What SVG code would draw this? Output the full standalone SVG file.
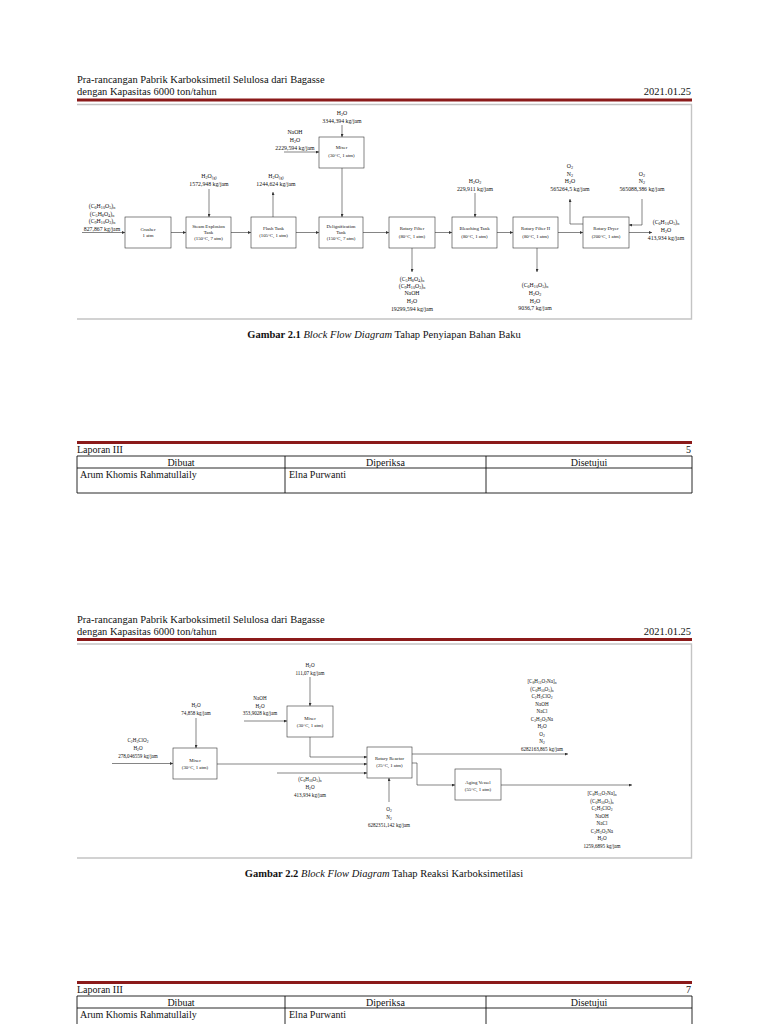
<svg xmlns="http://www.w3.org/2000/svg" width="768" height="1024" viewBox="0 0 768 1024">
<style>
text{font-family:"Liberation Serif","Times New Roman",serif;fill:#111}
.h{font-size:10.5px}
.c{font-size:10.5px;text-anchor:middle}
.t{font-size:10px}
.tc{font-size:10px;text-anchor:middle}
.l{font-size:5.8px;text-anchor:middle}
.m{font-size:5.1px;text-anchor:middle}
.b{font-size:4.8px;text-anchor:middle}
.s{font-size:4.2px}
.l .s{baseline-shift:-1.2px}
.m .s{font-size:3.7px;baseline-shift:-1.05px}
.box rect{fill:#fff;stroke:#333;stroke-width:0.6}
.con path{fill:none;stroke:#333;stroke-width:0.6;marker-end:url(#ah)}
.red{fill:#8b1a1a}
.frame{fill:none;stroke:#c4c4c4;stroke-width:1.4}
.tbl{fill:none;stroke:#111;stroke-width:0.9}
</style>
<defs>
<marker id="ah" viewBox="0 0 6 6" refX="6" refY="3" markerWidth="3" markerHeight="3" markerUnits="userSpaceOnUse" orient="auto">
<path d="M0,0 L6,3 L0,6 z" fill="#333"/>
</marker>
</defs>
<rect width="768" height="1024" fill="#fff"/>

<!-- ================= PAGE 1 ================= -->
<g id="header1">
<text class="h" x="77" y="83">Pra-rancangan Pabrik Karboksimetil Selulosa dari Bagasse</text>
<text class="h" x="77" y="95">dengan Kapasitas 6000 ton/tahun</text>
<text class="h" x="691" y="95" text-anchor="end">2021.01.25</text>
<rect class="red" x="77" y="98.5" width="615" height="3"/>
</g>
<path class="frame" d="M77,104.5 H691.5 V319 H77"/>

<g class="box">
<g id="crusher"><rect x="125" y="217" width="46" height="31"/><text class="b" x="148" y="231">Crusher</text><text class="b" x="148" y="237">1 atm</text></g>
<g id="steam-explosion-tank"><rect x="186" y="217" width="45" height="31"/><text class="b" x="208.5" y="228">Steam Explosion</text><text class="b" x="208.5" y="234">Tank</text><text class="b" x="208.5" y="240">(150°C, 7 atm)</text></g>
<g id="flash-tank"><rect x="251" y="217" width="45" height="31"/><text class="b" x="273.5" y="230">Flash Tank</text><text class="b" x="273.5" y="237">(105°C, 1 atm)</text></g>
<g id="mixer1"><rect x="319" y="137" width="45" height="31"/><text class="b" x="341.5" y="149">Mixer</text><text class="b" x="341.5" y="157">(30°C, 1 atm)</text></g>
<g id="delignification-tank"><rect x="319" y="217" width="44" height="31"/><text class="b" x="341" y="228">Delignification</text><text class="b" x="341" y="234">Tank</text><text class="b" x="341" y="240">(150°C, 7 atm)</text></g>
<g id="rotary-filter"><rect x="389" y="217" width="46" height="31"/><text class="b" x="412" y="230">Rotary Filter</text><text class="b" x="412" y="237.5">(80°C, 1 atm)</text></g>
<g id="bleaching-tank"><rect x="452" y="217" width="45" height="31"/><text class="b" x="474.5" y="230">Bleaching Tank</text><text class="b" x="474.5" y="237.5">(80°C, 1 atm)</text></g>
<g id="rotary-filter-2"><rect x="513" y="217" width="45" height="31"/><text class="b" x="535.5" y="230">Rotary Filter II</text><text class="b" x="535.5" y="237.5">(80°C, 1 atm)</text></g>
<g id="rotary-dryer"><rect x="583" y="217" width="46" height="31"/><text class="b" x="606" y="230">Rotary Dryer</text><text class="b" x="606" y="237.5">(200°C, 1 atm)</text></g>
</g>

<g id="connectors1" class="con">
<path d="M82,232.5 H125"/>
<path d="M171,232.5 H186"/>
<path d="M231,232.5 H251"/>
<path d="M296,232.5 H319"/>
<path d="M363,232.5 H389"/>
<path d="M435,232.5 H452"/>
<path d="M497,232.5 H513"/>
<path d="M558,232.5 H583"/>
<path d="M629,232.5 H652"/>
<path d="M209,189 V217"/>
<path d="M273,217 V192"/>
<path d="M342,125 V137"/>
<path d="M284,152 H319"/>
<path d="M342,168 V217"/>
<path d="M475,193 V217"/>
<path d="M583,224 H570 V199"/>
<path d="M642,199 V225 H629"/>
<path d="M412,248 V272"/>
<path d="M537,248 V272"/>
</g>

<g id="labels1">
<text class="l" x="102" y="208">(C<tspan class="s">6</tspan>H<tspan class="s">10</tspan>O<tspan class="s">5</tspan>)<tspan class="s">n</tspan></text>
<text class="l" x="102" y="215.5">(C<tspan class="s">5</tspan>H<tspan class="s">8</tspan>O<tspan class="s">4</tspan>)<tspan class="s">n</tspan></text>
<text class="l" x="102" y="223">(C<tspan class="s">9</tspan>H<tspan class="s">10</tspan>O<tspan class="s">2</tspan>)<tspan class="s">n</tspan></text>
<text class="l" x="102" y="230.5">827,867 kg/jam</text>

<text class="l" x="209" y="178">H<tspan class="s">2</tspan>O<tspan class="s">(g)</tspan></text>
<text class="l" x="209" y="186">1572,948 kg/jam</text>

<text class="l" x="276" y="178">H<tspan class="s">2</tspan>O<tspan class="s">(g)</tspan></text>
<text class="l" x="276" y="186">1244,624 kg/jam</text>

<text class="l" x="342" y="115">H<tspan class="s">2</tspan>O</text>
<text class="l" x="342" y="123">3344,394 kg/jam</text>

<text class="l" x="295" y="134">NaOH</text>
<text class="l" x="295" y="142">H<tspan class="s">2</tspan>O</text>
<text class="l" x="295" y="150">2229,594 kg/jam</text>

<text class="l" x="475" y="183">H<tspan class="s">2</tspan>O<tspan class="s">2</tspan></text>
<text class="l" x="475" y="190.5">229,911 kg/jam</text>

<text class="l" x="570" y="168">O<tspan class="s">2</tspan></text>
<text class="l" x="570" y="175.5">N<tspan class="s">2</tspan></text>
<text class="l" x="570" y="183">H<tspan class="s">2</tspan>O</text>
<text class="l" x="570" y="190.5">565264,5 kg/jam</text>

<text class="l" x="642" y="175.5">O<tspan class="s">2</tspan></text>
<text class="l" x="642" y="183">N<tspan class="s">2</tspan></text>
<text class="l" x="642" y="190.5">565088,386 kg/jam</text>

<text class="l" x="666" y="224">(C<tspan class="s">6</tspan>H<tspan class="s">10</tspan>O<tspan class="s">5</tspan>)<tspan class="s">n</tspan></text>
<text class="l" x="666" y="232">H<tspan class="s">2</tspan>O</text>
<text class="l" x="666" y="240">413,934 kg/jam</text>

<text class="l" x="412" y="281">(C<tspan class="s">5</tspan>H<tspan class="s">8</tspan>O<tspan class="s">4</tspan>)<tspan class="s">n</tspan></text>
<text class="l" x="412" y="288">(C<tspan class="s">9</tspan>H<tspan class="s">10</tspan>O<tspan class="s">2</tspan>)<tspan class="s">n</tspan></text>
<text class="l" x="412" y="295">NaOH</text>
<text class="l" x="412" y="303">H<tspan class="s">2</tspan>O</text>
<text class="l" x="412" y="311">19299,594 kg/jam</text>

<text class="l" x="535" y="287">(C<tspan class="s">6</tspan>H<tspan class="s">10</tspan>O<tspan class="s">5</tspan>)<tspan class="s">n</tspan></text>
<text class="l" x="535" y="295">H<tspan class="s">2</tspan>O<tspan class="s">2</tspan></text>
<text class="l" x="535" y="302.5">H<tspan class="s">2</tspan>O</text>
<text class="l" x="535" y="310">9036,7 kg/jam</text>
</g>

<text class="c" x="384" y="338"><tspan font-weight="bold">Gambar 2.1</tspan> <tspan font-style="italic">Block Flow Diagram</tspan> Tahap Penyiapan Bahan Baku</text>

<g id="footer1">
<rect class="red" x="77" y="441" width="615" height="3"/>
<text class="t" x="77" y="453">Laporan III</text>
<text class="t" x="691" y="453" text-anchor="end">5</text>
<path class="tbl" d="M77,456 H692 V493 H77 Z M77,468 H692 M285,456 V493 M486,456 V493"/>
<text class="tc" x="181" y="465.5">Dibuat</text>
<text class="tc" x="385.5" y="465.5">Diperiksa</text>
<text class="tc" x="589" y="465.5">Disetujui</text>
<text class="t" x="80" y="478">Arum Khomis Rahmatullaily</text>
<text class="t" x="289" y="478">Elna Purwanti</text>
</g>

<!-- ================= PAGE 2 ================= -->
<g id="header2">
<text class="h" x="77" y="623">Pra-rancangan Pabrik Karboksimetil Selulosa dari Bagasse</text>
<text class="h" x="77" y="635">dengan Kapasitas 6000 ton/tahun</text>
<text class="h" x="691" y="635" text-anchor="end">2021.01.25</text>
<rect class="red" x="77" y="638" width="615" height="3"/>
</g>
<path class="frame" d="M77,644 H691.5 V858 H77"/>

<g class="box">
<g id="mixer-a"><rect x="173" y="748" width="44" height="31"/><text class="b" x="195" y="762">Mixer</text><text class="b" x="195" y="769">(30°C, 1 atm)</text></g>
<g id="mixer-b"><rect x="287" y="706" width="46" height="31"/><text class="b" x="310" y="720">Mixer</text><text class="b" x="310" y="727">(30°C, 1 atm)</text></g>
<g id="rotary-reactor"><rect x="367" y="747" width="45" height="31"/><text class="b" x="389.5" y="760">Rotary Reactor</text><text class="b" x="389.5" y="767">(25°C, 1 atm)</text></g>
<g id="aging-vessel"><rect x="455" y="769" width="46" height="31"/><text class="b" x="478" y="783.5">Aging Vessel</text><text class="b" x="478" y="790.5">(55°C, 1 atm)</text></g>
</g>

<g id="connectors2" class="con">
<path d="M112,763.5 H173"/>
<path d="M196,718 V748"/>
<path d="M217,764 H367"/>
<path d="M310,677 V706"/>
<path d="M244,721 H287"/>
<path d="M310,737 V757 H367"/>
<path d="M277,773 H367"/>
<path d="M389,802 V778"/>
<path d="M412,754 H568"/>
<path d="M412,763 H417 V785 H455"/>
<path d="M501,785 H632"/>
</g>

<g id="labels2">
<text class="m" x="138" y="742">C<tspan class="s">2</tspan>H<tspan class="s">3</tspan>ClO<tspan class="s">2</tspan></text>
<text class="m" x="138" y="750">H<tspan class="s">2</tspan>O</text>
<text class="m" x="138" y="758">278,046559 kg/jam</text>

<text class="m" x="196" y="707">H<tspan class="s">2</tspan>O</text>
<text class="m" x="196" y="715">74,858 kg/jam</text>

<text class="m" x="310" y="667">H<tspan class="s">2</tspan>O</text>
<text class="m" x="310" y="675">111,07 kg/jam</text>

<text class="m" x="260" y="700">NaOH</text>
<text class="m" x="260" y="707.5">H<tspan class="s">2</tspan>O</text>
<text class="m" x="260" y="715">353,9028 kg/jam</text>

<text class="m" x="310" y="781">(C<tspan class="s">6</tspan>H<tspan class="s">10</tspan>O<tspan class="s">5</tspan>)<tspan class="s">n</tspan></text>
<text class="m" x="310" y="789">H<tspan class="s">2</tspan>O</text>
<text class="m" x="310" y="797">413,934 kg/jam</text>

<text class="m" x="389" y="811">O<tspan class="s">2</tspan></text>
<text class="m" x="389" y="818.5">N<tspan class="s">2</tspan></text>
<text class="m" x="389" y="827">6282351,142 kg/jam</text>

<text class="m" x="542" y="683">[C<tspan class="s">8</tspan>H<tspan class="s">11</tspan>O<tspan class="s">7</tspan>Na]<tspan class="s">n</tspan></text>
<text class="m" x="542" y="690.5">(C<tspan class="s">6</tspan>H<tspan class="s">10</tspan>O<tspan class="s">5</tspan>)<tspan class="s">n</tspan></text>
<text class="m" x="542" y="698">C<tspan class="s">2</tspan>H<tspan class="s">3</tspan>ClO<tspan class="s">2</tspan></text>
<text class="m" x="542" y="705.5">NaOH</text>
<text class="m" x="542" y="713">NaCl</text>
<text class="m" x="542" y="720.5">C<tspan class="s">2</tspan>H<tspan class="s">3</tspan>O<tspan class="s">3</tspan>Na</text>
<text class="m" x="542" y="728">H<tspan class="s">2</tspan>O</text>
<text class="m" x="542" y="735.5">O<tspan class="s">2</tspan></text>
<text class="m" x="542" y="743">N<tspan class="s">2</tspan></text>
<text class="m" x="542" y="750.5">6282163,865 kg/jam</text>

<text class="m" x="602" y="795">[C<tspan class="s">8</tspan>H<tspan class="s">11</tspan>O<tspan class="s">7</tspan>Na]<tspan class="s">n</tspan></text>
<text class="m" x="602" y="802.5">(C<tspan class="s">6</tspan>H<tspan class="s">10</tspan>O<tspan class="s">5</tspan>)<tspan class="s">n</tspan></text>
<text class="m" x="602" y="810">C<tspan class="s">2</tspan>H<tspan class="s">3</tspan>ClO<tspan class="s">2</tspan></text>
<text class="m" x="602" y="817.5">NaOH</text>
<text class="m" x="602" y="825">NaCl</text>
<text class="m" x="602" y="832.5">C<tspan class="s">2</tspan>H<tspan class="s">3</tspan>O<tspan class="s">3</tspan>Na</text>
<text class="m" x="602" y="840">H<tspan class="s">2</tspan>O</text>
<text class="m" x="602" y="847.5">1259,6895 kg/jam</text>
</g>

<text class="c" x="384" y="877"><tspan font-weight="bold">Gambar 2.2</tspan> <tspan font-style="italic">Block Flow Diagram</tspan> Tahap Reaksi Karboksimetilasi</text>

<g id="footer2">
<rect class="red" x="77" y="981" width="615" height="3"/>
<text class="t" x="77" y="993">Laporan III</text>
<text class="t" x="691" y="993" text-anchor="end">7</text>
<path class="tbl" d="M77,996 H692 V1030 M77,1030 V996 M77,1008 H692 M285,996 V1030 M486,996 V1030"/>
<text class="tc" x="181" y="1005.5">Dibuat</text>
<text class="tc" x="385.5" y="1005.5">Diperiksa</text>
<text class="tc" x="589" y="1005.5">Disetujui</text>
<text class="t" x="80" y="1018">Arum Khomis Rahmatullaily</text>
<text class="t" x="289" y="1018">Elna Purwanti</text>
</g>
</svg>
